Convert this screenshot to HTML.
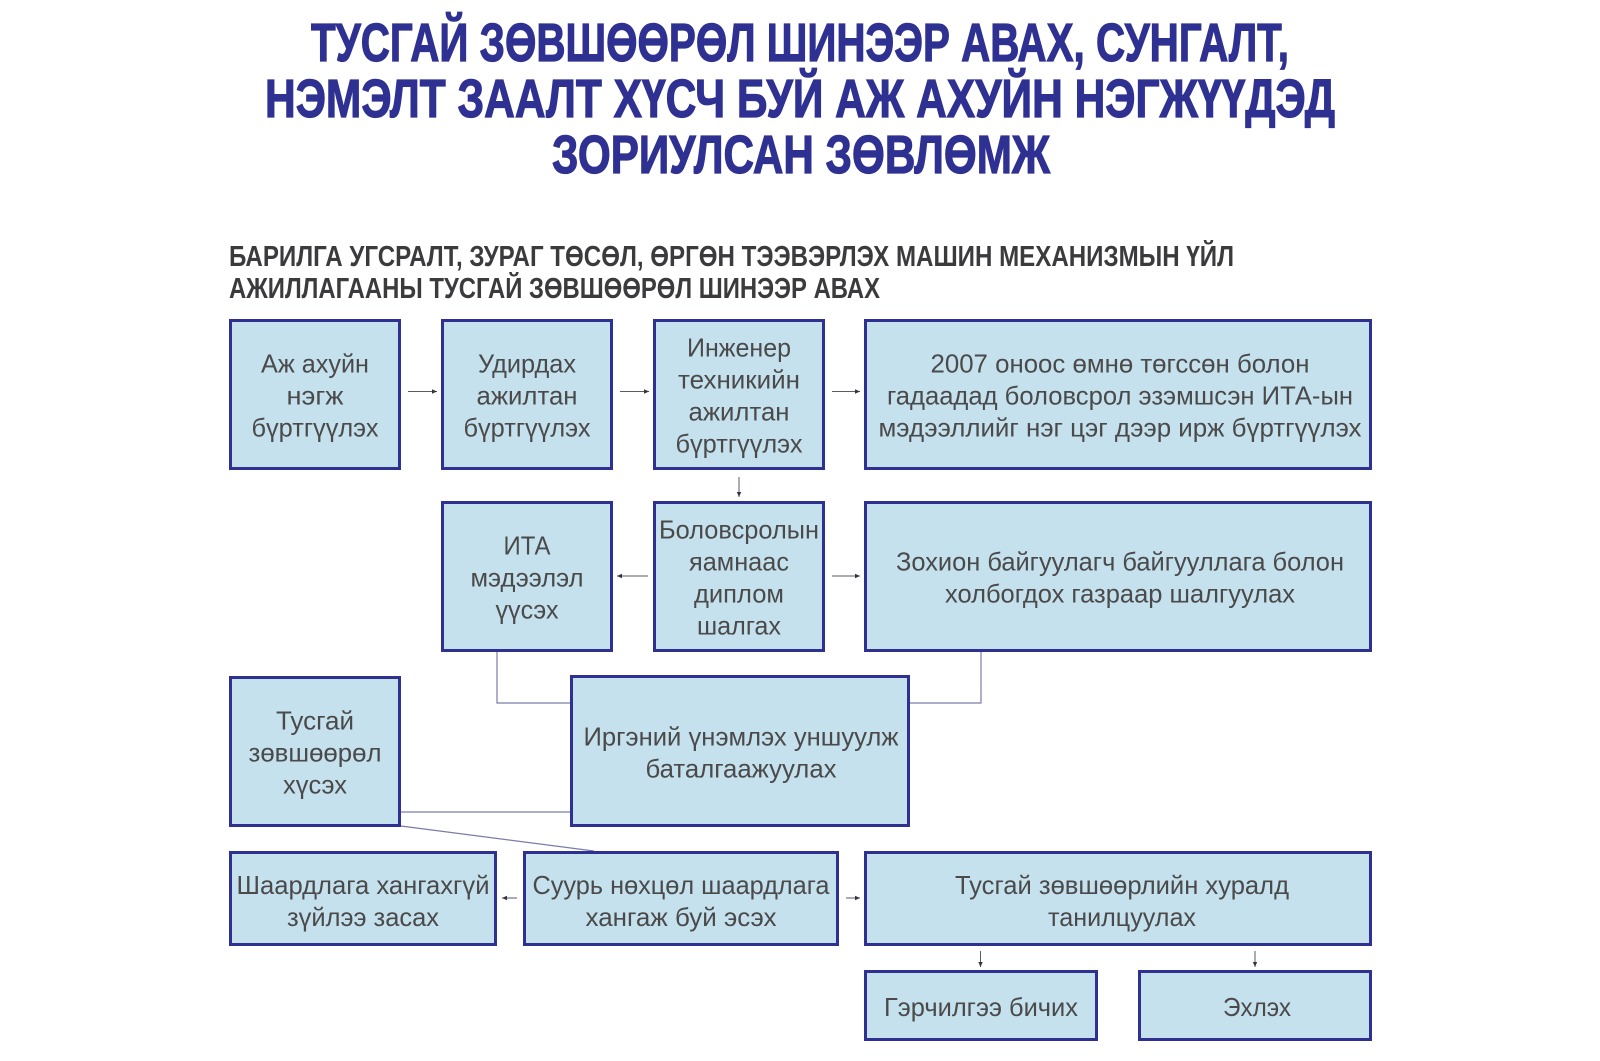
<!DOCTYPE html>
<html>
<head>
<meta charset="utf-8">
<style>
  html, body { margin: 0; padding: 0; background: #ffffff; }
  body { width: 1600px; height: 1061px; overflow: hidden; }
  svg { display: block; }
  .t { font-family: "Liberation Sans", "DejaVu Sans", sans-serif; font-weight: bold; fill: #2e3192; stroke: #2e3192; stroke-width: 1.2; font-size: 54px; }
  .s { font-family: "Liberation Sans", "DejaVu Sans", sans-serif; font-weight: bold; fill: #3b3b3d; font-size: 29px; }
  .b { font-family: "Liberation Sans", "DejaVu Sans", sans-serif; fill: #4a4a4a; font-size: 26px; text-anchor: middle; }
  .box { fill: #c6e1ee; stroke: #2e3192; stroke-width: 3; }
  .ln { stroke: #7a7ca8; stroke-width: 1.2; fill: none; }
  .ar { stroke: #5a5a6a; stroke-width: 1; fill: none; }
</style>
</head>
<body>
<svg width="1600" height="1061" viewBox="0 0 1600 1061" xmlns="http://www.w3.org/2000/svg">
  <defs>
    <marker id="ah" markerWidth="6" markerHeight="6" refX="5" refY="3" orient="auto" markerUnits="userSpaceOnUse">
      <path d="M0,0.8 L5,3 L0,5.2 Z" fill="#333344"/>
    </marker>
  </defs>

  <!-- Title -->
  <text class="t" x="311" y="61" textLength="978" lengthAdjust="spacingAndGlyphs">ТУСГАЙ ЗӨВШӨӨРӨЛ ШИНЭЭР АВАХ, СУНГАЛТ,</text>
  <text class="t" x="265" y="117" textLength="1070" lengthAdjust="spacingAndGlyphs">НЭМЭЛТ ЗААЛТ ХҮСЧ БУЙ АЖ АХУЙН НЭГЖҮҮДЭД</text>
  <text class="t" x="552" y="173" textLength="498" lengthAdjust="spacingAndGlyphs">ЗОРИУЛСАН ЗӨВЛӨМЖ</text>

  <!-- Subtitle -->
  <text class="s" x="229" y="266" textLength="1005" lengthAdjust="spacingAndGlyphs">БАРИЛГА УГСРАЛТ, ЗУРАГ ТӨСӨЛ, ӨРГӨН ТЭЭВЭРЛЭХ МАШИН МЕХАНИЗМЫН ҮЙЛ</text>
  <text class="s" x="229" y="298" textLength="651" lengthAdjust="spacingAndGlyphs">АЖИЛЛАГААНЫ ТУСГАЙ ЗӨВШӨӨРӨЛ ШИНЭЭР АВАХ</text>

  <!-- Connector lines (no arrows) -->
  <polyline class="ln" points="497,652 497,703 571,703"/>
  <polyline class="ln" points="981,652 981,703 909,703"/>
  <line class="ln" x1="401" y1="812" x2="571" y2="812"/>
  <line class="ln" x1="401" y1="826" x2="594" y2="851"/>

  <!-- Boxes row 1 -->
  <rect class="box" x="230.5" y="320.5" width="169" height="148"/>
  <rect class="box" x="442.5" y="320.5" width="169" height="148"/>
  <rect class="box" x="654.5" y="320.5" width="169" height="148"/>
  <rect class="box" x="865.5" y="320.5" width="505" height="148"/>
  <!-- row 2 -->
  <rect class="box" x="442.5" y="502.5" width="169" height="148"/>
  <rect class="box" x="654.5" y="502.5" width="169" height="148"/>
  <rect class="box" x="865.5" y="502.5" width="505" height="148"/>
  <!-- row 3 -->
  <rect class="box" x="230.5" y="677.5" width="169" height="148"/>
  <rect class="box" x="571.5" y="676.5" width="337" height="149"/>
  <!-- row 4 -->
  <rect class="box" x="230.5" y="852.5" width="265" height="92"/>
  <rect class="box" x="524.5" y="852.5" width="313" height="92"/>
  <rect class="box" x="865.5" y="852.5" width="505" height="92"/>
  <!-- row 5 -->
  <rect class="box" x="865.5" y="971.5" width="231" height="68"/>
  <rect class="box" x="1139.5" y="971.5" width="231" height="68"/>

  <!-- Arrows -->
  <line class="ar" x1="408" y1="391.5" x2="437" y2="391.5" marker-end="url(#ah)"/>
  <line class="ar" x1="620" y1="391.5" x2="649" y2="391.5" marker-end="url(#ah)"/>
  <line class="ar" x1="832" y1="391.5" x2="860" y2="391.5" marker-end="url(#ah)"/>
  <line class="ar" x1="739" y1="477" x2="739" y2="497" marker-end="url(#ah)"/>
  <line class="ar" x1="648" y1="576" x2="617" y2="576" marker-end="url(#ah)"/>
  <line class="ar" x1="832" y1="576" x2="860" y2="576" marker-end="url(#ah)"/>
  <line class="ar" x1="517" y1="898" x2="502" y2="898" marker-end="url(#ah)"/>
  <line class="ar" x1="846" y1="898" x2="860" y2="898" marker-end="url(#ah)"/>
  <line class="ar" x1="980.5" y1="951" x2="980.5" y2="967" marker-end="url(#ah)"/>
  <line class="ar" x1="1255" y1="951" x2="1255" y2="967" marker-end="url(#ah)"/>

  <!-- Box texts -->
  <!-- A -->
  <text class="b" x="315" y="372.5" textLength="108" lengthAdjust="spacingAndGlyphs">Аж ахуйн</text>
  <text class="b" x="315" y="404.5" textLength="57" lengthAdjust="spacingAndGlyphs">нэгж</text>
  <text class="b" x="315" y="436.5" textLength="127" lengthAdjust="spacingAndGlyphs">бүртгүүлэх</text>
  <!-- B -->
  <text class="b" x="527" y="372.5" textLength="98" lengthAdjust="spacingAndGlyphs">Удирдах</text>
  <text class="b" x="527" y="404.5" textLength="101" lengthAdjust="spacingAndGlyphs">ажилтан</text>
  <text class="b" x="527" y="436.5" textLength="127" lengthAdjust="spacingAndGlyphs">бүртгүүлэх</text>
  <!-- C -->
  <text class="b" x="739" y="356.5" textLength="104" lengthAdjust="spacingAndGlyphs">Инженер</text>
  <text class="b" x="739" y="388.5" textLength="122" lengthAdjust="spacingAndGlyphs">техникийн</text>
  <text class="b" x="739" y="420.5" textLength="101" lengthAdjust="spacingAndGlyphs">ажилтан</text>
  <text class="b" x="739" y="452.5" textLength="127" lengthAdjust="spacingAndGlyphs">бүртгүүлэх</text>
  <!-- D -->
  <text class="b" x="1120" y="372.5" textLength="379" lengthAdjust="spacingAndGlyphs">2007 оноос өмнө төгссөн болон</text>
  <text class="b" x="1120" y="404.5" textLength="466" lengthAdjust="spacingAndGlyphs">гадаадад боловсрол эзэмшсэн ИТА-ын</text>
  <text class="b" x="1120" y="436.5" textLength="483" lengthAdjust="spacingAndGlyphs">мэдээллийг нэг цэг дээр ирж бүртгүүлэх</text>
  <!-- E -->
  <text class="b" x="527" y="554.5" textLength="47" lengthAdjust="spacingAndGlyphs">ИТА</text>
  <text class="b" x="527" y="586.5" textLength="113" lengthAdjust="spacingAndGlyphs">мэдээлэл</text>
  <text class="b" x="527" y="618.5" textLength="63" lengthAdjust="spacingAndGlyphs">үүсэх</text>
  <!-- F -->
  <text class="b" x="739" y="538.5" textLength="160" lengthAdjust="spacingAndGlyphs">Боловсролын</text>
  <text class="b" x="739" y="570.5" textLength="100" lengthAdjust="spacingAndGlyphs">яамнаас</text>
  <text class="b" x="739" y="602.5" textLength="90" lengthAdjust="spacingAndGlyphs">диплом</text>
  <text class="b" x="739" y="634.5" textLength="84" lengthAdjust="spacingAndGlyphs">шалгах</text>
  <!-- G -->
  <text class="b" x="1120" y="570.5" textLength="448" lengthAdjust="spacingAndGlyphs">Зохион байгуулагч байгууллага болон</text>
  <text class="b" x="1120" y="602.5" textLength="350" lengthAdjust="spacingAndGlyphs">холбогдох газраар шалгуулах</text>
  <!-- H -->
  <text class="b" x="315" y="729.5" textLength="78" lengthAdjust="spacingAndGlyphs">Тусгай</text>
  <text class="b" x="315" y="761.5" textLength="133" lengthAdjust="spacingAndGlyphs">зөвшөөрөл</text>
  <text class="b" x="315" y="793.5" textLength="64" lengthAdjust="spacingAndGlyphs">хүсэх</text>
  <!-- I -->
  <text class="b" x="741" y="745.5" textLength="315" lengthAdjust="spacingAndGlyphs">Иргэний үнэмлэх уншуулж</text>
  <text class="b" x="741" y="777.5" textLength="191" lengthAdjust="spacingAndGlyphs">баталгаажуулах</text>
  <!-- J -->
  <text class="b" x="363" y="894" textLength="253" lengthAdjust="spacingAndGlyphs">Шаардлага хангахгүй</text>
  <text class="b" x="363" y="926" textLength="152" lengthAdjust="spacingAndGlyphs">зүйлээ засах</text>
  <!-- K -->
  <text class="b" x="681" y="894" textLength="297" lengthAdjust="spacingAndGlyphs">Суурь нөхцөл шаардлага</text>
  <text class="b" x="681" y="926" textLength="191" lengthAdjust="spacingAndGlyphs">хангаж буй эсэх</text>
  <!-- L -->
  <text class="b" x="1122" y="894" textLength="334" lengthAdjust="spacingAndGlyphs">Тусгай зөвшөөрлийн хуралд</text>
  <text class="b" x="1122" y="926" textLength="148" lengthAdjust="spacingAndGlyphs">танилцуулах</text>
  <!-- M -->
  <text class="b" x="981" y="1016" textLength="194" lengthAdjust="spacingAndGlyphs">Гэрчилгээ бичих</text>
  <!-- N -->
  <text class="b" x="1257" y="1016" textLength="68" lengthAdjust="spacingAndGlyphs">Эхлэх</text>
</svg>
</body>
</html>
